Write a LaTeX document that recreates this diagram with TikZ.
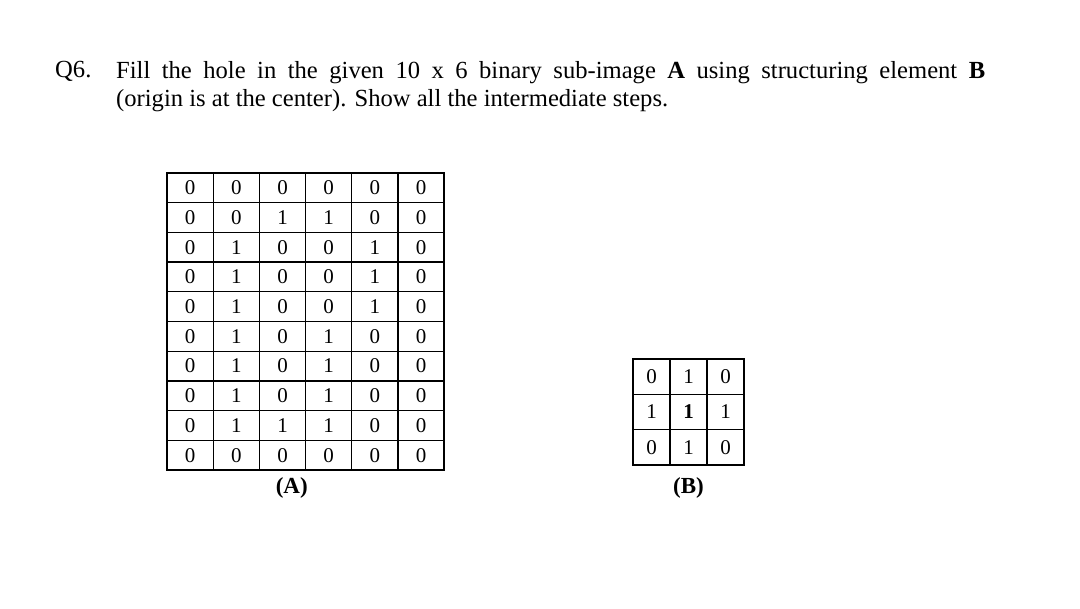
\documentclass[tikz,border=0pt]{standalone}
\usepackage{fontspec}
\setmainfont{Liberation Serif}
\begin{document}
\begin{tikzpicture}[x=1pt,y=-1pt,
  cell/.style={font=\fontsize{21}{21}\selectfont},
  lbl/.style={font=\fontsize{23}{23}\selectfont\bfseries},
  title/.style={font=\fontsize{24.6}{28}\selectfont,anchor=base west,inner sep=0pt}]
\useasboundingbox (0,0) rectangle (1080,609);
\node[title] (q) at (55,78) {Q6.};
\node[title,anchor=north west] (t1) at (116,61) {\parbox{869pt}{\parindent=0pt Fill the hole in the given 10 x 6 binary sub-image \textbf{A} using structuring element \textbf{B}\linebreak (origin is at the center). Show all the intermediate steps.}};
% Grid A
\def\ax{167}\def\ay{173}\def\aw{46.2}\def\ah{29.7}
\draw[line width=1.6pt] (\ax,\ay) rectangle ({\ax+6*\aw},{\ay+10*\ah});
\foreach \i in {1,...,5} \draw[line width=1.3pt] ({\ax+\i*\aw},\ay) -- ({\ax+\i*\aw},{\ay+10*\ah});
\foreach \j in {1,...,9} \draw[line width=1.3pt] (\ax,{\ay+\j*\ah}) -- ({\ax+6*\aw},{\ay+\j*\ah});
\foreach \row [count=\r from 0] in {{0,0,0,0,0,0},{0,0,1,1,0,0},{0,1,0,0,1,0},{0,1,0,0,1,0},{0,1,0,0,1,0},{0,1,0,1,0,0},{0,1,0,1,0,0},{0,1,0,1,0,0},{0,1,1,1,0,0},{0,0,0,0,0,0}}
  \foreach \v [count=\c from 0] in \row
    \node[cell] (a\r\c) at ({\ax+(\c+0.5)*\aw},{\ay+(\r+0.5)*\ah}) {\v};
\node[lbl] (la) at ({\ax+2.7*\aw},488) {(A)};
% Grid B
\def\bx{633}\def\by{359}\def\bw{37}\def\bh{35.3}
\draw[line width=1.6pt] (\bx,\by) rectangle ({\bx+3*\bw},{\by+3*\bh});
\foreach \i in {1,2} {\draw[line width=1.3pt] ({\bx+\i*\bw},\by) -- ({\bx+\i*\bw},{\by+3*\bh});
  \draw[line width=1.3pt] (\bx,{\by+\i*\bh}) -- ({\bx+3*\bw},{\by+\i*\bh});}
\foreach \row [count=\r from 0] in {{0,1,0},{1,\textbf{1},1},{0,1,0}}
  \foreach \v [count=\c from 0] in \row
    \node[cell] (b\r\c) at ({\bx+(\c+0.5)*\bw},{\by+(\r+0.5)*\bh}) {\v};
\node[lbl] (lb) at ({\bx+1.5*\bw},488) {(B)};
\end{tikzpicture}
\end{document}
